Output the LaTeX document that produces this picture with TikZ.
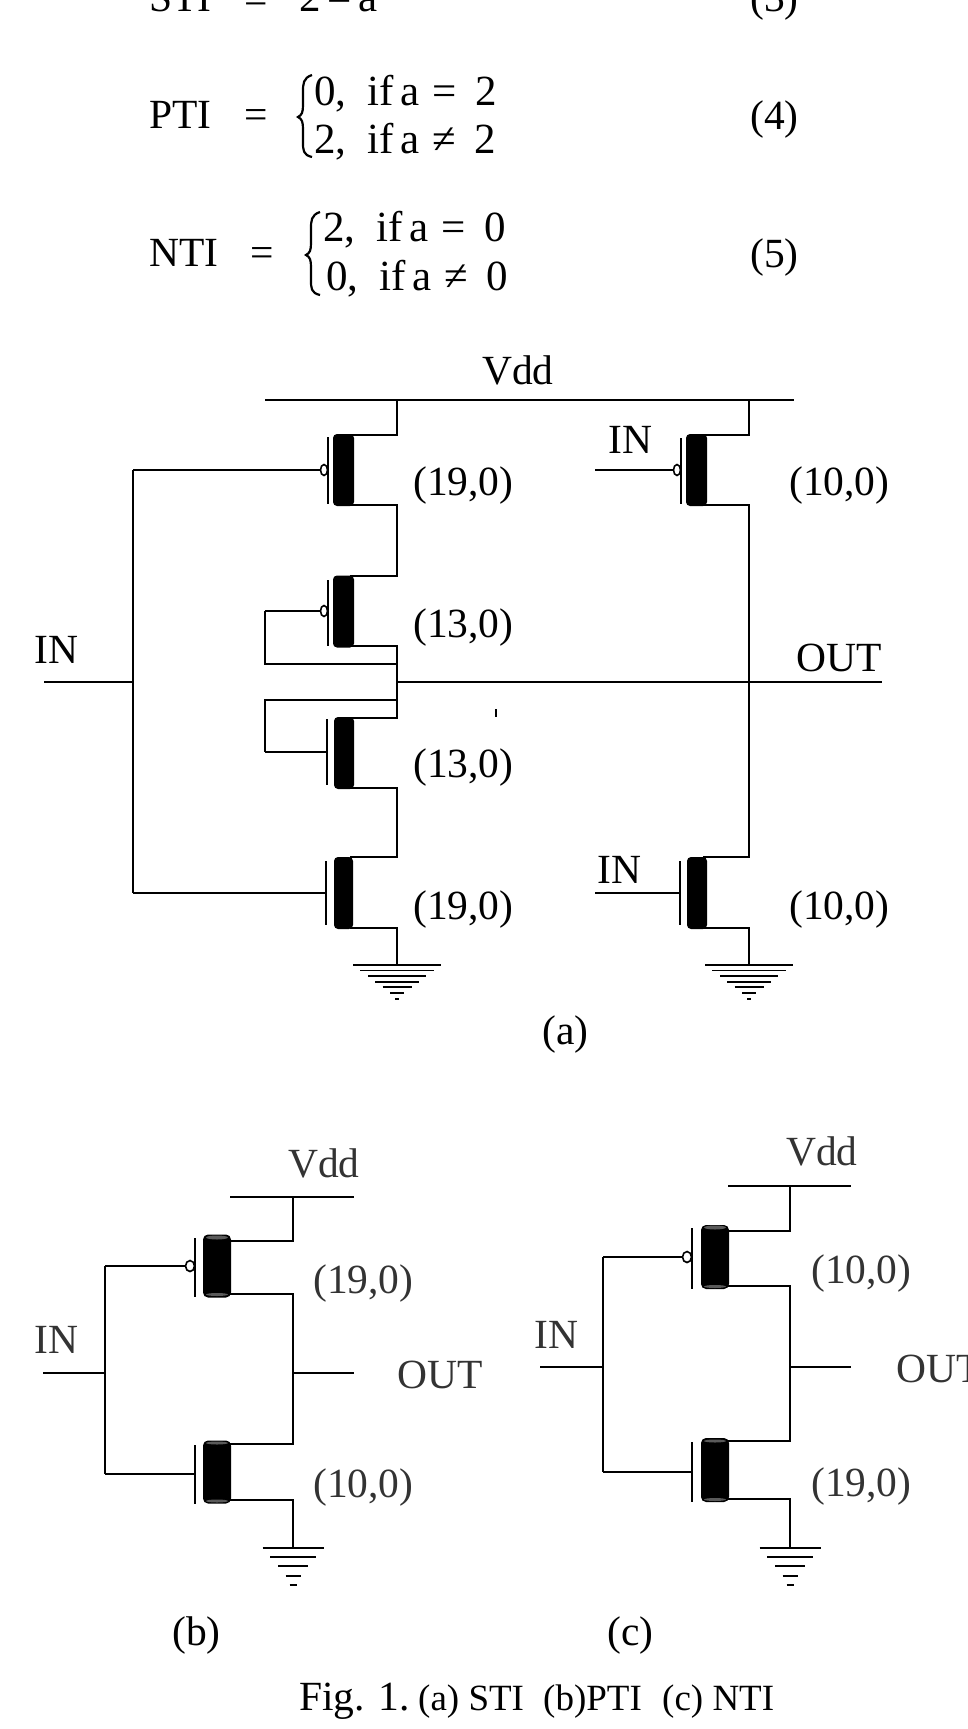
\documentclass[tikz,border=0pt]{standalone}
\usepackage{fontspec}
\setmainfont{Liberation Serif}
\usetikzlibrary{shapes.geometric}
\definecolor{labgray}{HTML}{333333}
\definecolor{capgray}{HTML}{5A5A5A}
\newcommand{\caserow}[3]{#1,\hspace{21pt}if\hspace{7pt}a\hspace{13pt}#2\hspace{18pt}#3}
\tikzset{
	wire/.style={line width=2.1pt},
	lab/.style={font=\fontsize{41.5pt}{45pt}\selectfont,inner sep=0pt,anchor=base west},
	labd/.style={lab,text=labgray},
	rowlab/.style={lab,font=\fontsize{43pt}{45pt}\selectfont},
	smalllab/.style={lab,font=\fontsize{37pt}{40pt}\selectfont},
	flatfet/.style={fill=black,rounded corners=4pt,inner sep=0pt,minimum width=21pt,minimum height=72pt},
	cylfet/.style={fill=black,rounded corners=5pt,inner sep=0pt,minimum width=28pt,minimum height=63pt},
	fetcap/.style={ellipse,fill=capgray,inner sep=0pt,minimum width=22pt,minimum height=4pt},
	gatebar/.style={fill=black,inner sep=0pt,minimum width=2pt},
	bubble/.style={ellipse,draw,fill=white,line width=1.6pt,inner sep=0pt,minimum width=7pt,minimum height=11pt},
	pics/gnda/.style={code={
		\draw[line width=1.9pt] (-44pt,0) -- (44pt,0);
		\draw[line width=1.9pt] (-37pt,-5.5pt) -- (37pt,-5.5pt);
		\draw[line width=1.9pt] (-29pt,-11pt) -- (29pt,-11pt);
		\draw[line width=1.9pt] (-22pt,-17pt) -- (22pt,-17pt);
		\draw[line width=1.9pt] (-14.5pt,-22pt) -- (14.5pt,-22pt);
		\draw[line width=1.9pt] (-7pt,-28pt) -- (7pt,-28pt);
		\draw[line width=1.9pt] (-2pt,-34pt) -- (2pt,-34pt);
	}},
	pics/gndb/.style={code={
		\draw[line width=1.9pt] (-30.5pt,0) -- (30.5pt,0);
		\draw[line width=1.9pt] (-23pt,-9pt) -- (23pt,-9pt);
		\draw[line width=1.9pt] (-15pt,-18pt) -- (15pt,-18pt);
		\draw[line width=1.9pt] (-7.5pt,-28pt) -- (7.5pt,-28pt);
		\draw[line width=1.9pt] (-3.5pt,-37pt) -- (3.5pt,-37pt);
	}},
}
\begin{document}
\begin{tikzpicture}
	\useasboundingbox (0,0) rectangle (967pt,-1729pt);
	% equations
	\node[lab] (stiname) at (149pt,-12pt) {STI};
	\node[lab] (stieq) at (244pt,-13pt) {=};
	\node[rowlab] (stival) at (299pt,-12pt) {2\hspace{7pt}\raisebox{-3pt}{−}\hspace{7pt}a};
	\node[lab] (stinum) at (750pt,-12pt) {(3)};
	\node[lab] (ptiname) at (149pt,-128pt) {PTI};
	\node[lab] (ptieq) at (244pt,-128pt) {=};
	\node[rowlab] (ptia) at (314pt,-105pt) {\caserow{0}{=}{2}};
	\node[rowlab] (ptib) at (314pt,-153pt) {\caserow{2}{≠}{2}};
	\node[lab] (ptinum) at (750pt,-129pt) {(4)};
	\node[lab] (ntiname) at (149pt,-266pt) {NTI};
	\node[lab] (ntieq) at (250pt,-266pt) {=};
	\node[rowlab] (ntia) at (323pt,-241pt) {\caserow{2}{=}{0}};
	\node[rowlab] (ntib) at (326pt,-290pt) {\caserow{0}{≠}{0}};
	\node[lab] (ntinum) at (750pt,-267pt) {(5)};
	\draw[line width=2.2pt] (312pt,-75pt) .. controls (303pt,-78pt) and (303pt,-84pt) .. (303pt,-92pt) -- (303pt,-105pt) .. controls (303pt,-112pt) and (302pt,-115pt) .. (298pt,-117pt) .. controls (302pt,-119pt) and (303pt,-122pt) .. (303pt,-129pt) -- (303pt,-142pt) .. controls (303pt,-150pt) and (303pt,-155pt) .. (312pt,-157pt);
	\draw[line width=2.2pt] (320pt,-212pt) .. controls (311pt,-215pt) and (311pt,-221pt) .. (311pt,-229pt) -- (311pt,-243pt) .. controls (311pt,-250pt) and (310pt,-253pt) .. (306pt,-255pt) .. controls (310pt,-257pt) and (311pt,-260pt) .. (311pt,-267pt) -- (311pt,-280pt) .. controls (311pt,-288pt) and (311pt,-293pt) .. (320pt,-295pt);

	% (a)
	\coordinate (railL) at (265pt,-400pt);
	\coordinate (railR) at (794pt,-400pt);
	\coordinate (a1top) at (397pt,-400pt);
	\coordinate (a5top) at (749pt,-400pt);
	\coordinate (a1d) at (350pt,-435pt);
	\coordinate (a1s) at (350pt,-505pt);
	\coordinate (a2d) at (350pt,-576pt);
	\coordinate (a2s) at (350pt,-646pt);
	\coordinate (a3d) at (350pt,-718pt);
	\coordinate (a3s) at (350pt,-788pt);
	\coordinate (a4d) at (350pt,-857pt);
	\coordinate (a4s) at (350pt,-928pt);
	\coordinate (a5d) at (703pt,-435pt);
	\coordinate (a5s) at (703pt,-505pt);
	\coordinate (a6d) at (703pt,-857pt);
	\coordinate (a6s) at (703pt,-928pt);
	\coordinate (a12) at (397pt,-576pt);
	\coordinate (a23) at (397pt,-718pt);
	\coordinate (a34) at (397pt,-857pt);
	\coordinate (a56) at (749pt,-857pt);
	\coordinate (agnd) at (397pt,-965pt);
	\coordinate (bgnd) at (749pt,-965pt);
	\coordinate (inL) at (44pt,-682pt);
	\coordinate (bus) at (133pt,-682pt);
	\coordinate (busT) at (133pt,-470pt);
	\coordinate (busB) at (133pt,-893pt);
	\coordinate (outM) at (397pt,-682pt);
	\coordinate (outR) at (882pt,-682pt);
	\coordinate (fbT) at (265pt,-611pt);
	\coordinate (fbTm) at (397pt,-664pt);
	\coordinate (fbB) at (265pt,-752pt);
	\coordinate (fbBm) at (397pt,-700pt);
	\coordinate (in5) at (595pt,-470pt);
	\coordinate (in6) at (595pt,-893pt);
	\coordinate (tickT) at (496pt,-709pt);
	\coordinate (tickB) at (496pt,-717pt);

	\draw[wire] (railL) -- (railR);
	\draw[wire] (a1d) -| (a1top);
	\draw[wire] (a1s) -| (a12) -- (a2d);
	\draw[wire] (a2s) -| (a23) -- (a3d);
	\draw[wire] (a3s) -| (a34) -- (a4d);
	\draw[wire] (a4s) -| (agnd);
	\draw[wire] (a5d) -| (a5top);
	\draw[wire] (a5s) -| (a56) -- (a6d);
	\draw[wire] (a6s) -| (bgnd);
	\draw[wire] (inL) -- (bus);
	\draw[wire] (busT) -- (busB);
	\draw[wire] (outM) -- (outR);
	\draw[wire] (fbTm) -| (fbT);
	\draw[wire] (fbBm) -| (fbB);
	\draw[line width=1.2pt] (tickT) -- (tickB);

	\node[flatfet] (a1) at (343.5pt,-470pt) {};
	\node[flatfet] (a2) at (343.5pt,-611.5pt) {};
	\node[flatfet,minimum width=20pt] (a3) at (344pt,-753pt) {};
	\node[flatfet,minimum width=19pt] (a4) at (343.5pt,-893pt) {};
	\node[flatfet,minimum width=21pt] (a5) at (696.5pt,-470pt) {};
	\node[flatfet,minimum width=20pt] (a6) at (697pt,-893pt) {};
	\node[gatebar,minimum height=67pt] (a1g) at (328pt,-470.5pt) {};
	\node[gatebar,minimum height=66pt] (a2g) at (328pt,-612.5pt) {};
	\node[gatebar,minimum height=66pt] (a3g) at (327pt,-752pt) {};
	\node[gatebar,minimum height=64pt] (a4g) at (326pt,-893pt) {};
	\node[gatebar,minimum height=66pt] (a5g) at (681pt,-471pt) {};
	\node[gatebar,minimum height=64pt] (a6g) at (680pt,-893pt) {};
	\node[bubble] (a1b) at (324pt,-470pt) {};
	\node[bubble] (a2b) at (324pt,-611pt) {};
	\node[bubble] (a5b) at (677pt,-470pt) {};
	\draw[wire] (busT) -- (a1b.west);
	\draw[wire] (fbT) -- (a2b.west);
	\draw[wire] (fbB) -- (a3g.west);
	\draw[wire] (busB) -- (a4g.west);
	\draw[wire] (in5) -- (a5b.west);
	\draw[wire] (in6) -- (a6g.west);
	\pic at (agnd) {gnda};
	\pic at (bgnd) {gnda};

	\node[lab] (avdd) at (482pt,-384pt) {Vdd};
	\node[lab] (ain5) at (608pt,-453pt) {IN};
	\node[lab] (ain6) at (597pt,-883pt) {IN};
	\node[lab] (ain) at (34pt,-663pt) {IN};
	\node[lab] (aout) at (796pt,-671pt) {OUT};
	\node[lab] (a1w) at (413pt,-495pt) {(19,0)};
	\node[lab] (a2w) at (413pt,-637pt) {(13,0)};
	\node[lab] (a3w) at (413pt,-777pt) {(13,0)};
	\node[lab] (a4w) at (413pt,-919pt) {(19,0)};
	\node[lab] (a5w) at (789pt,-495pt) {(10,0)};
	\node[lab] (a6w) at (789pt,-919pt) {(10,0)};
	\node[lab] (acap) at (542pt,-1044pt) {(a)};

	% (b)
	\coordinate (brailL) at (230pt,-1197pt);
	\coordinate (brailR) at (354pt,-1197pt);
	\coordinate (btop) at (293pt,-1197pt);
	\coordinate (b1d) at (226pt,-1241pt);
	\coordinate (b1s) at (226pt,-1294pt);
	\coordinate (b2d) at (226pt,-1444pt);
	\coordinate (b2s) at (226pt,-1500pt);
	\coordinate (bmid) at (293pt,-1444pt);
	\coordinate (bground) at (293pt,-1548pt);
	\coordinate (binL) at (43pt,-1373pt);
	\coordinate (bbus) at (105pt,-1373pt);
	\coordinate (bbusT) at (105pt,-1266pt);
	\coordinate (bbusB) at (105pt,-1474pt);
	\coordinate (boutM) at (293pt,-1373pt);
	\coordinate (boutR) at (354pt,-1373pt);

	\draw[wire] (brailL) -- (brailR);
	\draw[wire] (b1d) -| (btop);
	\draw[wire] (b1s) -| (bmid) -- (b2d);
	\draw[wire] (b2s) -| (bground);
	\draw[wire] (binL) -- (bbus);
	\draw[wire] (bbusT) -- (bbusB);
	\draw[wire] (boutM) -- (boutR);
	\node[cylfet] (b1) at (217pt,-1266pt) {};
	\node[cylfet] (b2) at (217pt,-1472pt) {};
	\node[fetcap] (b1c) at (217pt,-1237.5pt) {};
	\node[fetcap,minimum height=3pt] (b1e) at (217pt,-1294.5pt) {};
	\node[fetcap,minimum height=3pt] (b2c) at (217pt,-1443pt) {};
	\node[fetcap,minimum height=3pt] (b2e) at (217pt,-1501pt) {};
	\node[gatebar,minimum height=59pt] (b1g) at (195pt,-1267.5pt) {};
	\node[gatebar,minimum height=59pt] (b2g) at (195pt,-1474pt) {};
	\node[bubble,minimum width=9pt] (b1b) at (190pt,-1266pt) {};
	\draw[wire] (bbusT) -- (b1b.west);
	\draw[wire] (bbusB) -- (b2g.west);
	\pic at (bground) {gndb};

	\node[labd] (bvdd) at (288pt,-1177pt) {Vdd};
	\node[labd] (bin) at (34pt,-1353pt) {IN};
	\node[labd] (bout) at (397pt,-1388pt) {OUT};
	\node[labd] (b1w) at (313pt,-1293pt) {(19,0)};
	\node[labd] (b2w) at (313pt,-1497pt) {(10,0)};
	\node[lab] (bcap) at (172pt,-1645pt) {(b)};

	% (c)
	\coordinate (crailL) at (728pt,-1186pt);
	\coordinate (crailR) at (851pt,-1186pt);
	\coordinate (ctop) at (790pt,-1186pt);
	\coordinate (c1d) at (725pt,-1231pt);
	\coordinate (c1s) at (725pt,-1286pt);
	\coordinate (c2d) at (725pt,-1441pt);
	\coordinate (c2s) at (725pt,-1499pt);
	\coordinate (cmid) at (790pt,-1441pt);
	\coordinate (cground) at (790pt,-1548pt);
	\coordinate (cinL) at (540pt,-1367pt);
	\coordinate (cbus) at (603pt,-1367pt);
	\coordinate (cbusT) at (603pt,-1257pt);
	\coordinate (cbusB) at (603pt,-1472pt);
	\coordinate (coutM) at (790pt,-1367pt);
	\coordinate (coutR) at (851pt,-1367pt);

	\draw[wire] (crailL) -- (crailR);
	\draw[wire] (c1d) -| (ctop);
	\draw[wire] (c1s) -| (cmid) -- (c2d);
	\draw[wire] (c2s) -| (cground);
	\draw[wire] (cinL) -- (cbus);
	\draw[wire] (cbusT) -- (cbusB);
	\draw[wire] (coutM) -- (coutR);
	\node[cylfet,minimum height=64pt] (c1) at (715pt,-1257pt) {};
	\node[cylfet,minimum height=64pt] (c2) at (715pt,-1470pt) {};
	\node[fetcap] (c1c) at (715pt,-1227.5pt) {};
	\node[fetcap,minimum height=3pt] (c1e) at (715pt,-1286.5pt) {};
	\node[fetcap,minimum height=3pt] (c2c) at (715pt,-1441pt) {};
	\node[fetcap,minimum height=3pt] (c2e) at (715pt,-1499.5pt) {};
	\node[gatebar,minimum height=61pt] (c1g) at (692pt,-1258.5pt) {};
	\node[gatebar,minimum height=60pt] (c2g) at (692pt,-1472pt) {};
	\node[bubble,minimum width=9pt] (c1b) at (687pt,-1257pt) {};
	\draw[wire] (cbusT) -- (c1b.west);
	\draw[wire] (cbusB) -- (c2g.west);
	\pic at (cground) {gndb};

	\node[labd] (cvdd) at (786pt,-1165pt) {Vdd};
	\node[labd] (cin) at (534pt,-1348pt) {IN};
	\node[labd] (cout) at (896pt,-1382pt) {OUT};
	\node[labd] (c1w) at (811pt,-1283pt) {(10,0)};
	\node[labd] (c2w) at (811pt,-1496pt) {(19,0)};
	\node[lab] (ccap) at (607pt,-1645pt) {(c)};

	% caption
	\node[lab] (figno) at (299pt,-1710pt) {Fig. 1.};
	\node[smalllab] (sta) at (418pt,-1710pt) {(a) STI};
	\node[smalllab] (stb) at (543pt,-1710pt) {(b)PTI};
	\node[smalllab] (stc) at (662pt,-1710pt) {(c) NTI};
\end{tikzpicture}
\end{document}
